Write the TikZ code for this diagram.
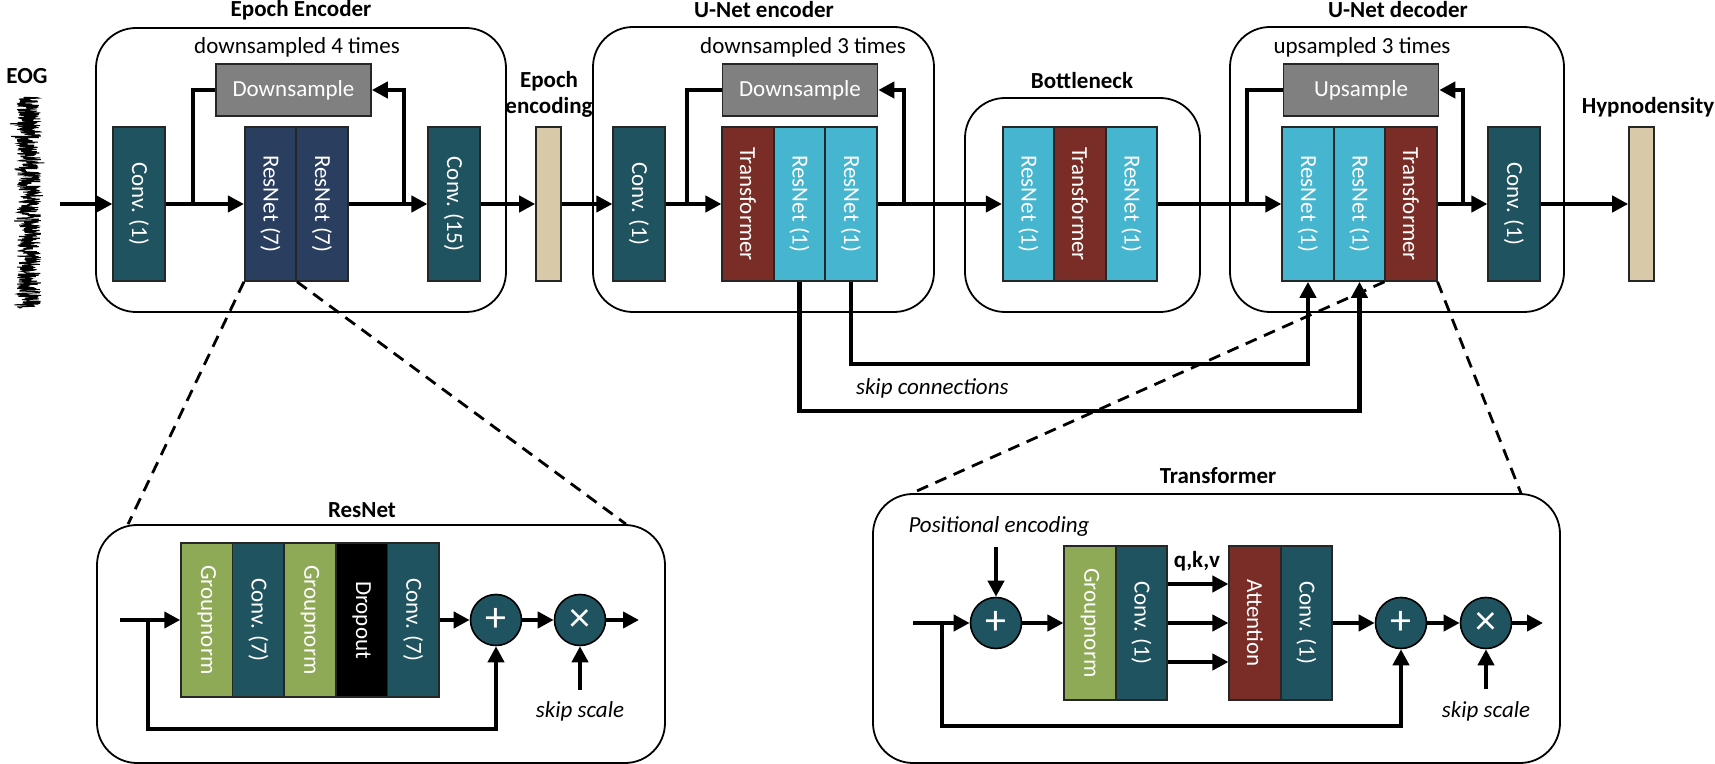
\documentclass[tikz,border=0pt]{standalone}
\usepackage{fontspec}
\setmainfont{Carlito}
\usepackage{graphicx}
\usepackage{xcolor}
\usepackage{tikz}
\usetikzlibrary{arrows.meta,positioning,calc}

\definecolor{convteal}{RGB}{30,83,95}
\definecolor{resdark}{RGB}{42,62,96}
\definecolor{reslight}{RGB}{70,182,208}
\definecolor{transred}{RGB}{122,45,38}
\definecolor{samplegray}{RGB}{128,128,128}
\definecolor{encbeige}{RGB}{216,201,168}
\definecolor{normgreen}{RGB}{143,170,86}

\newcommand{\turned}[1]{\rotatebox{-90}{#1}}

\begin{document}
\begin{tikzpicture}[x=0.5pt, y=-0.5pt,
    every node/.style={font=\fontsize{11.5}{13}\selectfont},
    panel/.style={rectangle, draw, line width=0.9pt, rounded corners=20pt, inner sep=0pt},
    block/.style={rectangle, draw=black!85, line width=0.8pt, minimum width=25.75pt, minimum height=77pt, inner sep=0pt, text=white},
    sampler/.style={rectangle, draw=black!85, line width=0.8pt, fill=samplegray, minimum width=77.5pt, minimum height=26pt, inner sep=0pt, text=white},
    bar/.style={rectangle, draw=black!85, line width=0.8pt, fill=encbeige, minimum width=12.5pt, minimum height=77pt, inner sep=0pt},
    op/.style={circle, draw=black, line width=0.8pt, fill=convteal, minimum size=25.5pt, inner sep=0pt, text=white, font=\fontsize{21}{21}\selectfont},
    title/.style={font=\fontsize{11.5}{13}\selectfont\bfseries},
    note/.style={font=\fontsize{11.5}{13}\selectfont\itshape},
    wire/.style={line width=2.3pt},
    arrow/.style={-{Triangle[length=8pt, width=8pt]}, line width=2.3pt},
    zoomline/.style={dash pattern=on 6pt off 4pt, line width=1.4pt}
]
\useasboundingbox (0,0) rectangle (1715,764);

% panels
\node[panel, minimum width=205pt, minimum height=142pt] (eebox) at (301,170) {};
\node[panel, minimum width=170.5pt, minimum height=142.5pt] (uebox) at (763.5,169.5) {};
\node[panel, minimum width=117.5pt, minimum height=107pt] (bnbox) at (1082.5,205) {};
\node[panel, minimum width=167pt, minimum height=142.5pt] (udbox) at (1397,169.5) {};
\node[panel, minimum width=284pt, minimum height=119pt] (rnbox) at (381,644) {};
\node[panel, minimum width=343.5pt, minimum height=134.5pt] (trbox) at (1216.5,628.5) {};

\node[title] (eetitle) at (301,10) {Epoch Encoder};
\node[title] (uetitle) at (764,10) {U-Net encoder};
\node[title] (bntitle) at (1082,81) {Bottleneck};
\node[title] (udtitle) at (1398,10) {U-Net decoder};
\node[title, align=center] (enctitle) at (549,94) {Epoch\\encoding};
\node[title] (hyptitle) at (1648,107) {Hypnodensity};
\node[title] (eog) at (27,76) {EOG};
\node (eesub) at (297,47) {downsampled 4 times};
\node (uesub) at (803,47) {downsampled 3 times};
\node (udsub) at (1362,47) {upsampled 3 times};

% EOG trace
\pgfmathsetseed{11}
\draw[line width=0.5pt] plot[domain=97:308, samples=600, variable=\t]
    ({29+12*rand+13*(rnd>0.95)*rand}, \t);

% top row blocks
\foreach \n/\x/\c/\t in {
    ee1/139/convteal/Conv. (1),
    ee2/270.5/resdark/ResNet (7),
    ee3/322/resdark/ResNet (7),
    ee4/454/convteal/Conv. (15),
    ue1/639/convteal/Conv. (1),
    ue2/748/transred/Transformer,
    ue3/799.5/reslight/ResNet (1),
    ue4/851/reslight/ResNet (1),
    bn1/1028.5/reslight/ResNet (1),
    bn2/1080/transred/Transformer,
    bn3/1131.5/reslight/ResNet (1),
    ud1/1308/reslight/ResNet (1),
    ud2/1359.5/reslight/ResNet (1),
    ud3/1411/transred/Transformer,
    ud4/1514/convteal/Conv. (1)} {
    \node[block, fill=\c] (\n) at (\x,204) {\turned{\t}};
}
\node[bar] (enc) at (548.5,204) {};
\node[bar] (hyp) at (1641.5,204) {};
\node[sampler] (ds1) at (293.5,90) {Downsample};
\node[sampler] (ds2) at (800,90) {Downsample};
\node[sampler] (us) at (1361,90) {Upsample};

\coordinate (eogout) at (60,204);
\draw[arrow] (eogout) -- (ee1);
\draw[arrow] (ee1) -- (ee2);
\draw[arrow] (ee3) -- (ee4);
\draw[arrow] (ee4) -- (enc);
\draw[arrow] (enc) -- (ue1);
\draw[arrow] (ue1) -- (ue2);
\draw[arrow] (ue4) -- (bn1);
\draw[arrow] (bn3) -- (ud1);
\draw[arrow] (ud3) -- (ud4);
\draw[arrow] (ud4) -- (hyp);

\foreach \s/\l/\r in {ds1/193/404, ds2/687/904, us/1247/1463} {
    \coordinate (\s-l) at (\l,204);
    \coordinate (\s-r) at (\r,204);
    \draw[wire] (\s-l) |- (\s);
    \draw[arrow] (\s-r) |- (\s);
}

% skip connections
\coordinate (skipa) at (1359.5,411);
\coordinate (skipb) at (1308,364);
\draw[arrow] (ue3.south) |- (skipa) -- (ud2.south);
\draw[arrow] (ue4.south) |- (skipb) -- (ud1.south);
\node[note, anchor=west] (skiplbl) at (849,388) {skip connections};

\draw[zoomline] (ee2.south west) -- ([xshift=16pt]rnbox.north west);
\draw[zoomline] (ee2.south east) -- ([xshift=-20pt]rnbox.north east);
\draw[zoomline] (ud3.south west) -- ([xshift=20pt]trbox.north west);
\draw[zoomline] (ud3.south east) -- ([xshift=-20pt]trbox.north east);

% ResNet detail
\node[title] (rntitle) at (362,510) {ResNet};
\foreach \n/\x/\c/\t in {
    rn1/206.8/normgreen/Groupnorm,
    rn2/258.4/convteal/Conv. (7),
    rn3/310/normgreen/Groupnorm,
    rn4/361.6/black/Dropout,
    rn5/413.2/convteal/Conv. (7)} {
    \node[block, fill=\c] (\n) at (\x,620) {\turned{\t}};
}
\node[op] (add1) at (496,620) {+};
\node[op] (mul1) at (580,620) {×};
\coordinate (rnin) at (120,620);
\coordinate (rnsplit) at (148,620);
\coordinate (rnloop) at (148,729);
\coordinate (rnout) at (639,620);
\coordinate (rnscale) at (580,690);
\draw[arrow] (rnin) -- (rn1);
\draw[arrow] (rnsplit) -- (rnloop) -| (add1);
\draw[arrow] (rn5) -- (add1);
\draw[arrow] (add1) -- (mul1);
\draw[arrow] (mul1) -- (rnout);
\draw[arrow] (rnscale) -- (mul1);
\node[note] (rnscalelbl) at (580,711) {skip scale};

% Transformer detail
\node[title] (trtitle) at (1218,476) {Transformer};
\node[note] (poslbl) at (999,526) {Positional encoding};
\node[title] (qkvlbl) at (1197,561) {q,k,v};
\foreach \n/\x/\c/\t in {
    tr1/1090/normgreen/Groupnorm,
    tr2/1141.5/convteal/Conv. (1),
    tr3/1255/transred/Attention,
    tr4/1306.5/convteal/Conv. (1)} {
    \node[block, fill=\c] (\n) at (\x,623) {\turned{\t}};
}
\node[op] (add2) at (996,623) {+};
\node[op] (add3) at (1401,623) {+};
\node[op] (mul2) at (1486,623) {×};
\coordinate (trin) at (913,623);
\coordinate (trsplit) at (942,623);
\coordinate (trloop) at (942,726);
\coordinate (posin) at (996,547);
\coordinate (trout) at (1543,623);
\coordinate (trscale) at (1486,689);
\draw[arrow] (trin) -- (add2);
\draw[arrow] (posin) -- (add2);
\draw[arrow] (add2) -- (tr1);
\foreach \dy in {-19.5,0,19.5}
    \draw[arrow] ([yshift=\dy pt]tr2.east) -- ([yshift=\dy pt]tr3.west);
\draw[arrow] (trsplit) -- (trloop) -| (add3);
\draw[arrow] (tr4) -- (add3);
\draw[arrow] (add3) -- (mul2);
\draw[arrow] (mul2) -- (trout);
\draw[arrow] (trscale) -- (mul2);
\node[note] (trscalelbl) at (1486,711) {skip scale};
\end{tikzpicture}
\end{document}
